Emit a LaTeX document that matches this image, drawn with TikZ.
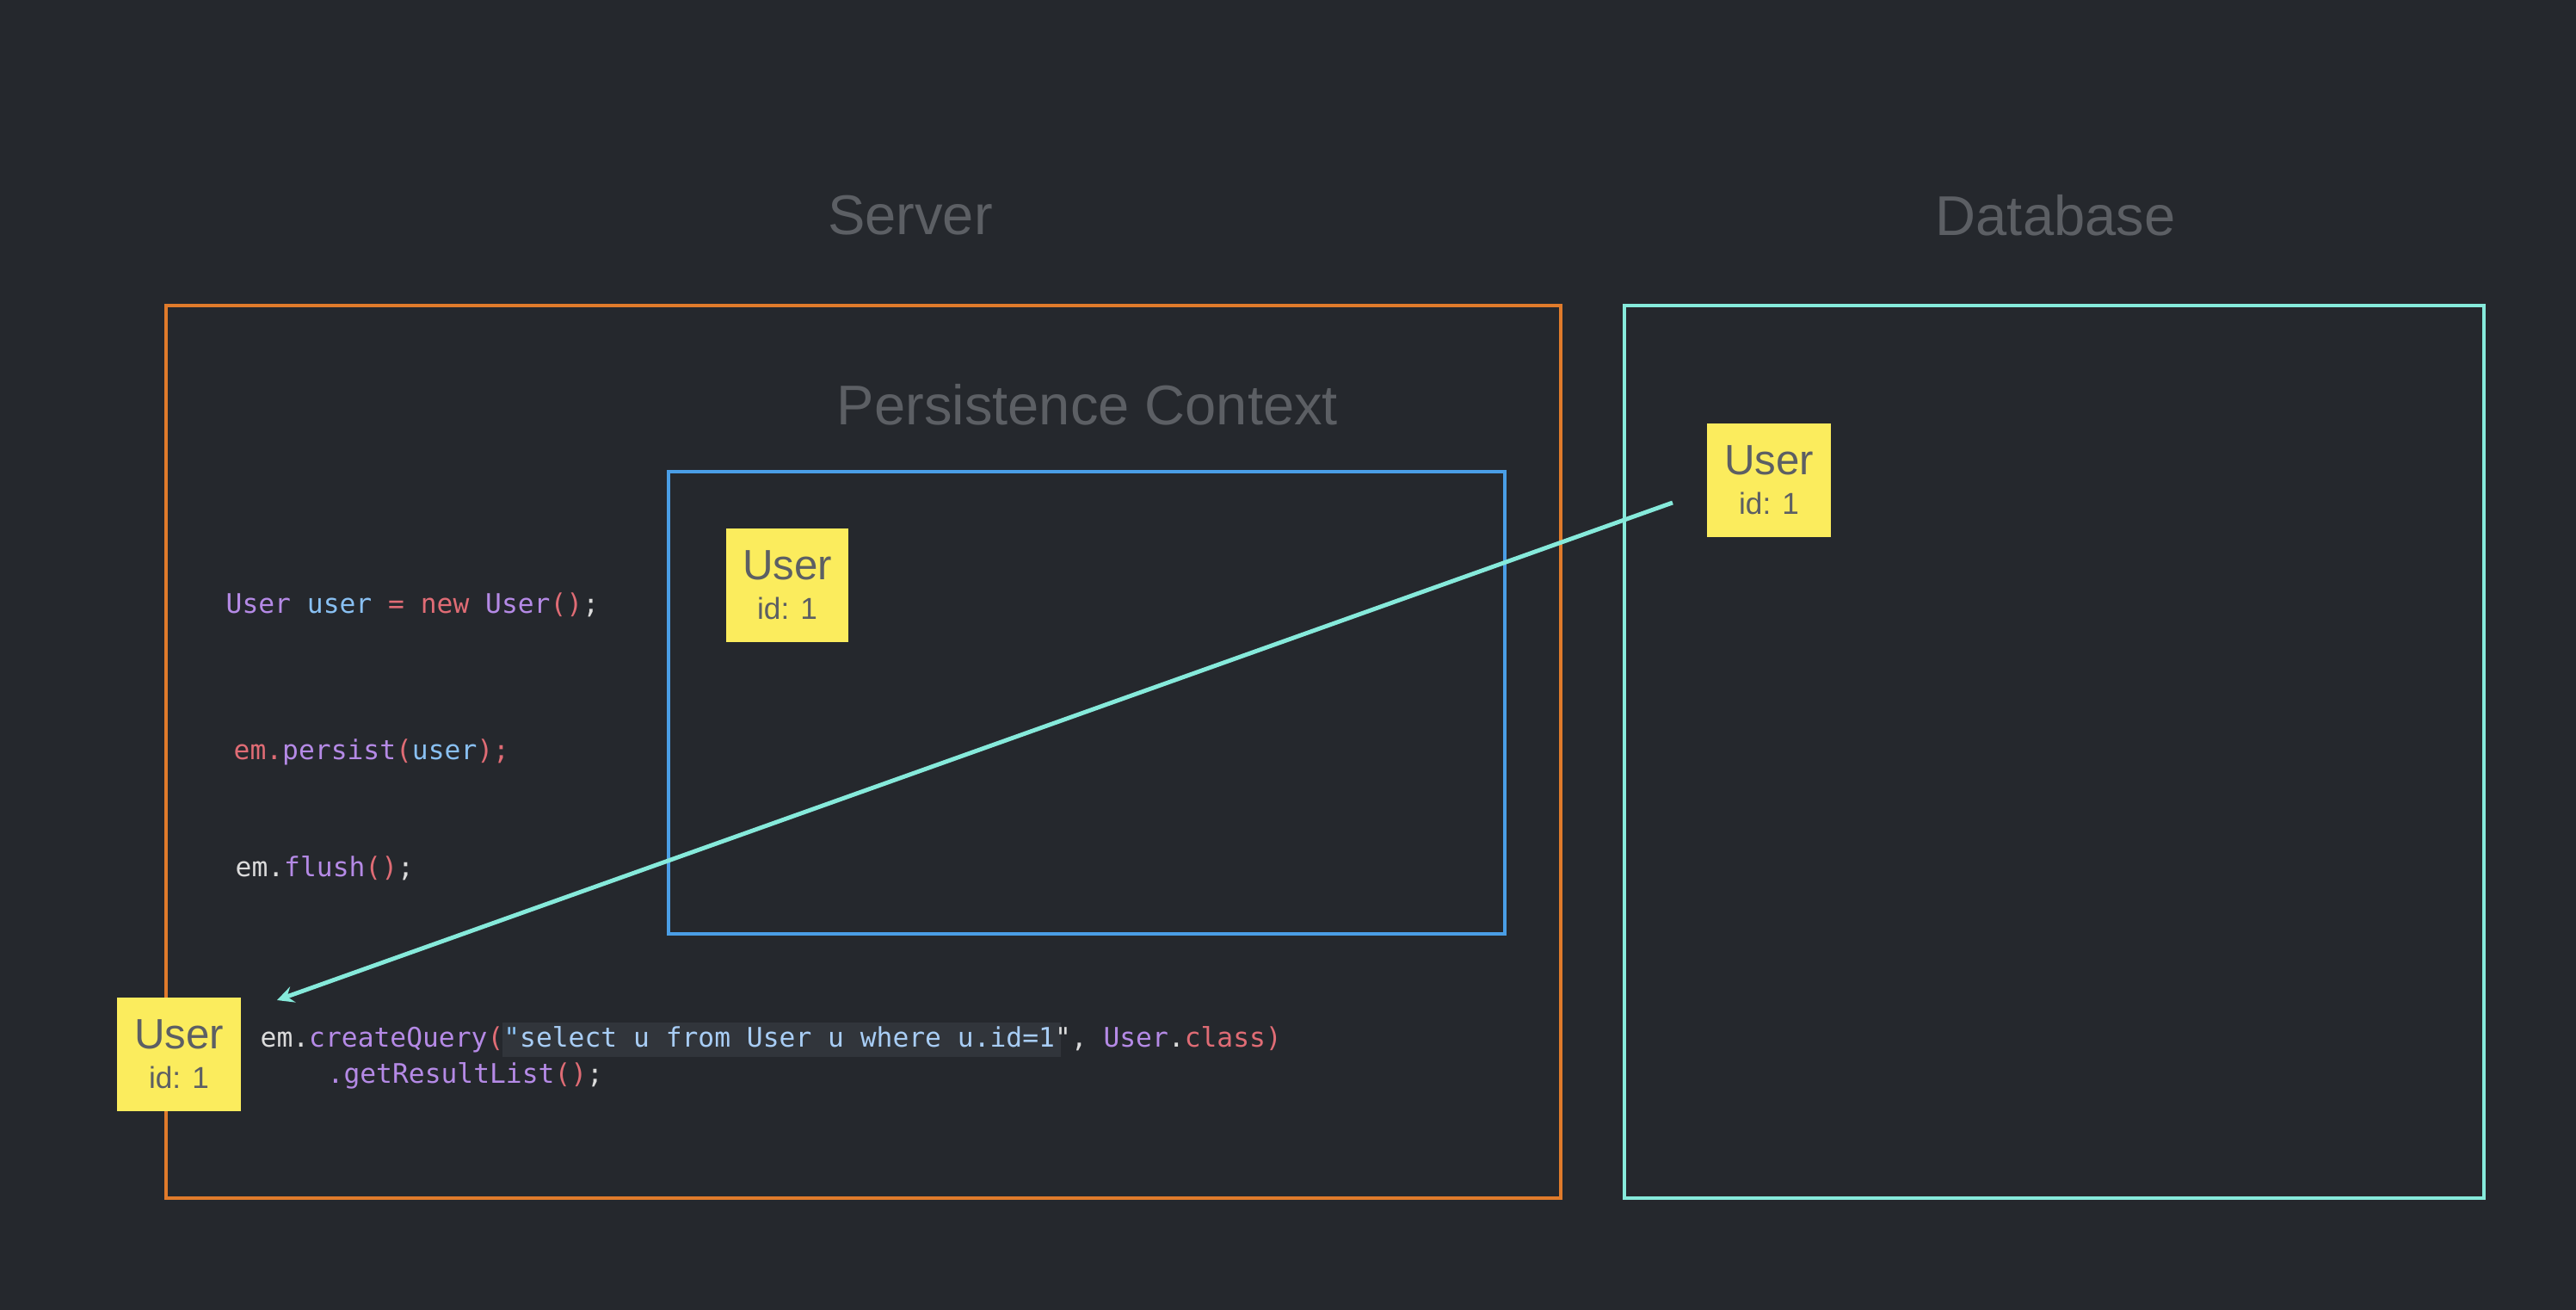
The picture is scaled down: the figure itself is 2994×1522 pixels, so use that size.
\documentclass[tikz,border=0pt]{standalone}
\usepackage{fontspec}
\setmainfont{Liberation Sans}
\setmonofont{DejaVu Sans Mono}
\usetikzlibrary{positioning}
\definecolor{bgc}{HTML}{25282D}
\definecolor{srvc}{HTML}{E07B2B}
\definecolor{pcc}{HTML}{4A9EE6}
\definecolor{dbc}{HTML}{86EADB}
\definecolor{note}{HTML}{FBEC5D}
\definecolor{titlec}{HTML}{5C5F64}
\definecolor{cpur}{HTML}{B58AE6}
\definecolor{cblu}{HTML}{89C0F2}
\definecolor{cred}{HTML}{E06C75}
\definecolor{cwht}{HTML}{DCDCDC}
\definecolor{cstr}{HTML}{A8CDF5}
\definecolor{hlc}{HTML}{31353B}
\newcommand{\kP}[1]{\textcolor{cpur}{#1}}
\newcommand{\kB}[1]{\textcolor{cblu}{#1}}
\newcommand{\kR}[1]{\textcolor{cred}{#1}}
\newcommand{\kW}[1]{\textcolor{cwht}{#1}}
\tikzset{
	frame/.style = {draw, line width = 1.3pt},
	title/.style = {text = titlec, font = \fontsize{18.5}{22}\selectfont},
	entity/.style = {fill = note, inner sep = 0pt, align = center, text = titlec},
	code/.style = {anchor = base west, inner sep = 0pt, font = \ttfamily\fontsize{8.9}{11}\selectfont}
}
\begin{document}
\begin{tikzpicture}[x = 0.01cm, y = -0.01cm]
	\fill [bgc] (0,0) rectangle (2994,1522);
	\useasboundingbox (0,0) rectangle (2994,1522);

	% titles
	\node [title] (tServer) at (1058,250) {Server};
	\node [title] (tDb) at (2389,250) {Database};
	\node [title] (tPc) at (1264,470) {Persistence Context};

	% boxes
	\draw [frame, srvc] (193,355) rectangle (1814,1392);
	\draw [frame, dbc] (1888,355) rectangle (2887,1392);
	\draw [frame, pcc] (777,548) rectangle (1749,1085);

	% entities
	\node [entity, minimum width = 1.41cm, minimum height = 1.31cm] (pcUser) at (915,680)
		{{\fontsize{14}{16}\selectfont User}\\[1pt]{\fontsize{10}{12}\selectfont id: 1}};
	\node [entity, minimum width = 1.43cm, minimum height = 1.31cm] (dbUser) at (2056,558)
		{{\fontsize{14}{16}\selectfont User}\\[1pt]{\fontsize{10}{12}\selectfont id: 1}};
	\node [entity, minimum width = 1.43cm, minimum height = 1.32cm] (resUser) at (208,1225)
		{{\fontsize{14}{16}\selectfont User}\\[1pt]{\fontsize{10}{12}\selectfont id: 1}};

	% code
	\fill [hlc] (584,1188) rectangle (1233,1228);
	\node [code] (c1) at (262,712) {\kP{User} \kB{user} \kR{=} \kR{new} \kP{User}\kR{()}\kW{;}};
	\node [code] (c2) at (271,882) {\kR{em.}\kP{persist}\kR{(}\kB{user}\kR{);}};
	\node [code] (c3) at (273,1018) {\kW{em.}\kP{flush}\kR{()}\kW{;}};
	\node [code] (c4) at (302,1216) {\kW{em.}\kP{createQuery}\kR{(}\kB{"}\textcolor{cstr}{select u from User u where u.id=1}\kW{", }\kP{User}\kW{.}\kR{class)}};
	\node [code] (c5) at (380,1258) {\kP{.getResultList}\kR{()}\kW{;}};

	% query result
	\coordinate (qFrom) at (1944,584);
	\coordinate (qTo) at (322,1162);
	\draw [dbc, line width = 1.4pt, -stealth] (qFrom) -- (qTo);
\end{tikzpicture}
\end{document}
